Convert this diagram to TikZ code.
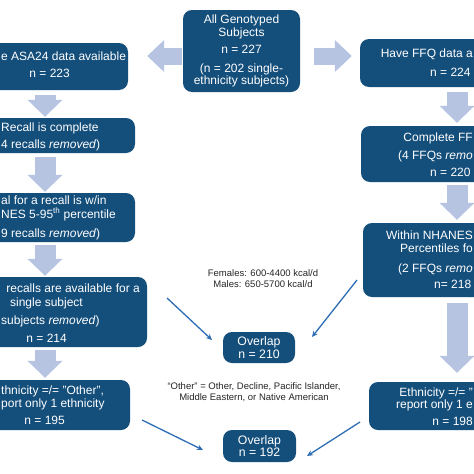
\documentclass[tikz,border=0pt]{standalone}
\usepackage{fontspec}
\setmainfont{Liberation Sans}
\usetikzlibrary{arrows.meta,calc}
\definecolor{boxblue}{RGB}{20,78,123}
\definecolor{fatblue}{RGB}{182,196,226}
\definecolor{linkblue}{RGB}{46,110,180}
\begin{document}
\begin{tikzpicture}[x=1pt,y=1pt,
  box/.style={fill=boxblue, rounded corners=9pt, inner sep=0pt},
  txt/.style={text=white, font=\fontsize{12}{12.8}\selectfont, inner sep=0pt},
  ctxt/.style={txt, align=center},
  otxt/.style={text=white, font=\fontsize{12.3}{12.6}\selectfont, inner sep=0pt, align=center},
  fatdown/.style={draw=fatblue, line width=21pt, -{Triangle[width=34pt,length=17pt]}},
  fatside/.style={draw=fatblue, line width=17pt, -{Triangle[width=31pt,length=17pt]}},
  link/.style={draw=linkblue, line width=1.3pt, -{Stealth[length=6pt,width=5.5pt]}},
  note/.style={text=black!85, font=\fontsize{9.5}{11}\selectfont, align=center, inner sep=0pt}]
\useasboundingbox (0,0) rectangle (474,-474);
\fill[white] (0,0) rectangle (474,-474);
\clip (0,0) rectangle (474,-474);

% boxes
\node[box, minimum width=117pt, minimum height=82pt] (T) at (241.5,-51) {};
\node[box, minimum width=168pt, minimum height=47pt] (L1) at (44,-66.5) {};
\node[box, minimum width=175pt, minimum height=35pt] (L2) at (47.5,-135.5) {};
\node[box, minimum width=175pt, minimum height=49pt] (L3) at (47.5,-217.5) {};
\node[box, minimum width=187pt, minimum height=70pt] (L4) at (53.5,-312) {};
\node[box, minimum width=170pt, minimum height=50pt] (L5) at (45,-405) {};
\node[box, minimum width=160pt, minimum height=48pt] (R1) at (440,-63) {};
\node[box, minimum width=159pt, minimum height=56pt] (R2) at (440.5,-154) {};
\node[box, minimum width=157pt, minimum height=74pt] (R3) at (441.5,-260) {};
\node[box, minimum width=151pt, minimum height=48pt] (R5) at (444.5,-406) {};
\node[box, minimum width=72pt, minimum height=31pt] (O1) at (259,-347.5) {};
\node[box, minimum width=73pt, minimum height=32pt] (O2) at (259.5,-446) {};

% texts
\node[ctxt] (Tt) at (T.center) {All Genotyped\\Subjects\\[5pt]n = 227\\[5.5pt](n = 202 single-\\ethnicity subjects)};
\node[otxt] (O1t) at (O1.center) {Overlap\\n = 210};
\node[otxt] (O2t) at (O2.center) {Overlap\\n = 192};

\node[txt, anchor=base west] (L1a) at (1,-60) {e ASA24 data available};
\node[txt, anchor=base east] (L1b) at (70,-77) {n = 223};
\node[txt, anchor=base west] (L2a) at (1,-131) {Recall is complete};
\node[txt, anchor=base west] (L2b) at (1,-148) {4 recalls \emph{removed})};
\node[txt, anchor=base west] (L3a) at (1,-204) {al for a recall is w/in};
\node[txt, anchor=base west] (L3b) at (1,-218) {NES 5-95\textsuperscript{th} percentile};
\node[txt, anchor=base west] (L3c) at (1,-237) {9 recalls \emph{removed})};
\node[txt, anchor=base east] (L4a) at (140,-292) {recalls are available for a};
\node[txt, anchor=base east] (L4b) at (83,-306) {single subject};
\node[txt, anchor=base west] (L4c) at (1,-324) {subjects \emph{removed})};
\node[txt, anchor=base east] (L4d) at (67,-342) {n = 214};
\node[txt, anchor=base west] (L5a) at (1,-394) {thnicity =/= "Other",};
\node[txt, anchor=base west] (L5b) at (1,-407) {port only 1 ethnicity};
\node[txt, anchor=base east] (L5c) at (65,-424) {n = 195};

\node[txt, anchor=base east] (R1a) at (473,-57) {Have FFQ data a};
\node[txt, anchor=base west] (R1b) at (430,-76) {n = 224};
\node[txt, anchor=base east] (R2a) at (473,-141) {Complete FF};
\node[txt, anchor=base east] (R2b) at (473,-159) {(4 FFQs \emph{remo}};
\node[txt, anchor=base west] (R2c) at (430,-176) {n = 220};
\node[txt, anchor=base east] (R3a) at (473,-239) {Within NHANES};
\node[txt, anchor=base east] (R3b) at (473,-252) {Percentiles fo};
\node[txt, anchor=base east] (R3c) at (473,-272) {(2 FFQs \emph{remo}};
\node[txt, anchor=base west] (R3d) at (434,-288) {n= 218};
\node[txt, anchor=base east] (R5a) at (473,-396) {Ethnicity =/= "};
\node[txt, anchor=base east] (R5b) at (473,-408) {report only 1 e};
\node[txt, anchor=base east] (R5c) at (473,-425) {n = 198};

% notes
\node[note] (N1) at (263,-279) {Females: 600-4400 kcal/d\\Males: 650-5700 kcal/d};
\node[note] (N2) at (254,-392.5) {“Other” = Other, Decline, Pacific Islander,\\Middle Eastern, or Native American};

% fat arrows
\coordinate (cL) at (45,0);
\coordinate (cR) at (457,0);
\coordinate (yA) at (0,-56);
\draw[fatside, shorten <=1pt, shorten >=19pt] (T.west |- yA) -- (L1.east |- yA);
\draw[fatside, shorten <=14pt, shorten >=8pt] (T.east |- yA) -- (R1.west |- yA);
\draw[fatdown, shorten <=5pt, shorten >=1pt] (L1.south -| cL) -- (L2.north -| cL);
\draw[fatdown, shorten <=4pt, shorten >=1pt] (L2.south -| cL) -- (L3.north -| cL);
\draw[fatdown, shorten <=3pt, shorten >=1pt] (L3.south -| cL) -- (L4.north -| cL);
\draw[fatdown, shorten <=3pt, shorten >=2pt] (L4.south -| cL) -- (L5.north -| cL);
\draw[fatdown, shorten <=5pt, shorten >=3pt] (R1.south -| cR) -- (R2.north -| cR);
\draw[fatdown, shorten <=3pt, shorten >=3pt] (R2.south -| cR) -- (R3.north -| cR);
\draw[fatdown, shorten <=6pt, shorten >=9pt] (R3.south -| cR) -- (R5.north -| cR);

% thin arrows
\coordinate (a1s) at (167,-298); \coordinate (a1e) at (212,-340);
\coordinate (a2s) at (357,-280); \coordinate (a2e) at (312,-337);
\coordinate (a3s) at (142,-420); \coordinate (a3e) at (203,-450);
\coordinate (a4s) at (360,-422); \coordinate (a4e) at (307,-456);
\draw[link] (a1s) -- (a1e);
\draw[link] (a2s) -- (a2e);
\draw[link] (a3s) -- (a3e);
\draw[link] (a4s) -- (a4e);
\end{tikzpicture}
\end{document}
